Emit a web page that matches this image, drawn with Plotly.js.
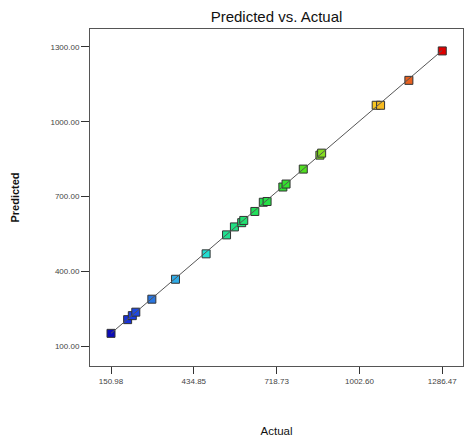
<!DOCTYPE html>
<html>
<head>
<meta charset="utf-8">
<script src="https://cdn.plot.ly/plotly-3.0.1.min.js"></script>
<style>html,body{margin:0;padding:0;background:#fff;}#chart{width:474px;height:443px;}</style>
</head>
<body>
<div id="chart"></div>
<script>
const actual    = [150.98, 208, 224, 236, 291, 372, 477, 547, 574, 599, 606, 644, 673, 686, 740, 751, 810, 867, 873, 1060, 1075, 1172, 1286.47];
const predicted = [151, 206, 222, 236, 288, 368, 470, 546, 578, 595, 604, 640, 677, 680, 738, 750, 810, 866, 874, 1066, 1066, 1166, 1284];
const xTickVals = [150.98, 434.85, 718.73, 1002.60, 1286.47];
const xTickText = ['150.98', '434.85', '718.73', '1002.60', '1286.47'];
const yTickVals = [100, 400, 700, 1000, 1300];
const yTickText = ['100.00', '400.00', '700.00', '1000.00', '1300.00'];
const fitLineX = [150.98, 1286.47];
const fitLineY = [150.98, 1286.47];

const rainbow = [
  [0.00, '#0c0cb8'], [0.06, '#1a3ae0'], [0.125, '#2a78e0'], [0.20, '#30b0e8'],
  [0.29, '#20e0d0'], [0.35, '#20e090'], [0.45, '#20e050'], [0.52, '#30e030'],
  [0.58, '#50e020'], [0.63, '#80e020'], [0.80, '#f8c820'], [0.90, '#e86020'],
  [1.00, '#e00000']
];

const pts = {
  type: 'scatter', mode: 'markers', x: actual, y: predicted,
  marker: {symbol: 'square', size: 8, color: actual, colorscale: rainbow,
           cmin: Math.min(...actual), cmax: Math.max(...actual),
           line: {color: '#333', width: 1}},
  showlegend: false, hoverinfo: 'x+y'
};
const line = {
  type: 'scatter', mode: 'lines', x: fitLineX, y: fitLineY,
  line: {color: '#555', width: 1}, showlegend: false, hoverinfo: 'skip'
};

const axisCommon = {
  showgrid: false, zeroline: false, showline: true, mirror: true,
  linecolor: '#555', linewidth: 1, ticks: 'outside', tickcolor: '#333',
  tickfont: {family: 'Liberation Sans, Arial, sans-serif', size: 8, color: '#444'}
};

const layout = {
  width: 474, height: 443,
  margin: {l: 90, r: 11, t: 29, b: 77},
  paper_bgcolor: '#fff', plot_bgcolor: '#fff',
  title: {text: 'Predicted vs. Actual', x: 0.5, xref: 'paper', y: 1 - 17/443, yref: 'container', yanchor: 'middle',
          font: {family: 'Liberation Sans, Arial, sans-serif', size: 15, color: '#111'}},
  xaxis: Object.assign({}, axisCommon, {
    range: [79, 1357.5], tickvals: xTickVals, ticktext: xTickText, ticklen: 7,
    title: {text: 'Actual', standoff: 42, font: {family: 'Liberation Sans, Arial, sans-serif', size: 11.5, color: '#111'}}
  }),
  yaxis: Object.assign({}, axisCommon, {
    range: [20, 1372], tickvals: yTickVals, ticktext: yTickText, ticklen: 8,
    title: {text: '<b>Predicted</b>', standoff: 28, font: {family: 'Liberation Sans, Arial, sans-serif', size: 11, color: '#111'}}
  })
};

Plotly.newPlot('chart', [pts, line], layout, {displayModeBar: false, staticPlot: true});
</script>
</body>
</html>
